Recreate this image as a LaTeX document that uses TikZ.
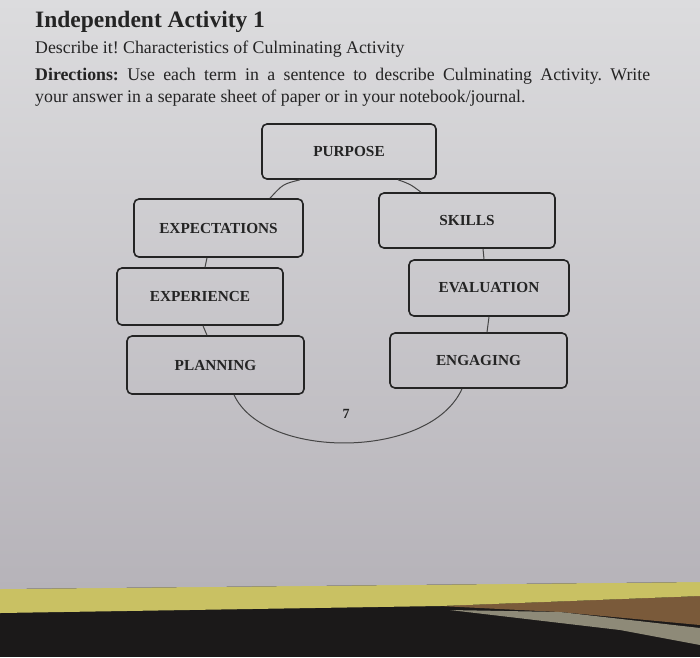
\documentclass[tikz,border=0pt]{standalone}
\usepackage{fontspec}
\setmainfont{Liberation Serif}
\frenchspacing
\definecolor{ink}{HTML}{242424}
\definecolor{paperTop}{HTML}{DCDCDE}
\definecolor{paperBot}{HTML}{B6B3B9}
\definecolor{band}{HTML}{C9C163}
\definecolor{dark}{HTML}{1B1919}
\definecolor{brownband}{HTML}{7A5A3A}
\definecolor{tan}{HTML}{8E8A78}
\tikzset{
  termbox/.style={draw=ink, line width=1.6pt, rounded corners=5pt, fill=none,
    text=ink, font=\fontsize{15.3}{17}\selectfont\bfseries, inner sep=0pt},
  link/.style={draw=ink!85, line width=1pt},
  txt/.style={anchor=base west, inner sep=0pt, text=ink}
}
\begin{document}
\begin{tikzpicture}[x=1pt,y=-1pt]
\useasboundingbox (0,0) rectangle (700,657);
% background scene
\fill[dark] (0,560) rectangle (700,657);
\fill[brownband] (440,606) -- (700,596) -- (700,625) -- (560,612) -- cycle;
\fill[tan] (450,610) -- (560,612) -- (700,628) -- (700,645) -- (620,630) -- cycle;
\fill[band] (0,589) -- (300,586) -- (700,582) -- (700,596) -- (440,606) -- (0,613) -- cycle;
\shade[top color=paperTop, bottom color=paperBot] (0,0) -- (700,0) -- (700,582) -- (300,586) -- (0,589) -- cycle;
% texts
\node[txt, font=\fontsize{23.5}{26}\selectfont\bfseries] (title) at (35,27) {Independent Activity 1};
\node[txt, font=\fontsize{17.8}{20}\selectfont] (desc) at (35,53) {Describe it! Characteristics of Culminating Activity};
\node[txt, font=\fontsize{17.8}{20}\selectfont] (dir1) at (35,80) {\makebox[615pt][s]{\textbf{Directions:} Use each term in a sentence to describe Culminating Activity. Write}};
\node[txt, font=\fontsize{17.8}{20}\selectfont] (dir2) at (35,102) {your answer in a separate sheet of paper or in your notebook/journal.};
% boxes
\node[termbox, minimum width=174pt, minimum height=55pt] (purpose) at (349,151.5) {PURPOSE};
\node[termbox, minimum width=169pt, minimum height=58pt] (expect) at (218.5,228) {EXPECTATIONS};
\node[termbox, minimum width=176pt, minimum height=55pt] (skills) at (467,220.5) {SKILLS};
\node[termbox, minimum width=166pt, minimum height=57pt] (exper) at (200,296.5) {EXPERIENCE};
\node[termbox, minimum width=160pt, minimum height=56pt] (eval) at (489,288) {EVALUATION};
\node[termbox, minimum width=177pt, minimum height=58pt] (plan) at (215.5,365) {PLANNING};
\node[termbox, minimum width=177pt, minimum height=55pt] (engage) at (478.5,360.5) {ENGAGING};
\node[text=ink, font=\fontsize{14}{16}\selectfont\bfseries] (page) at (346,414) {7};
% connectors
\draw[link] ([xshift=-49pt]purpose.south) .. controls (283,184) .. ([xshift=51.5pt]expect.north);
\draw[link] ([xshift=49pt]purpose.south) .. controls (410,184) .. ([xshift=-46pt]skills.north);
\draw[link] ([xshift=-11.5pt]expect.south) -- ([xshift=5pt]exper.north);
\draw[link] ([xshift=3pt]exper.south) -- ([xshift=-8.5pt]plan.north);
\draw[link] ([xshift=16pt]skills.south) -- ([xshift=-5pt]eval.north);
\draw[link] (eval.south) -- ([xshift=8.5pt]engage.north);
\draw[link] ([xshift=18.5pt]plan.south) .. controls (264,460) and (430,460) .. ([xshift=-16.5pt]engage.south);
\end{tikzpicture}
\end{document}
